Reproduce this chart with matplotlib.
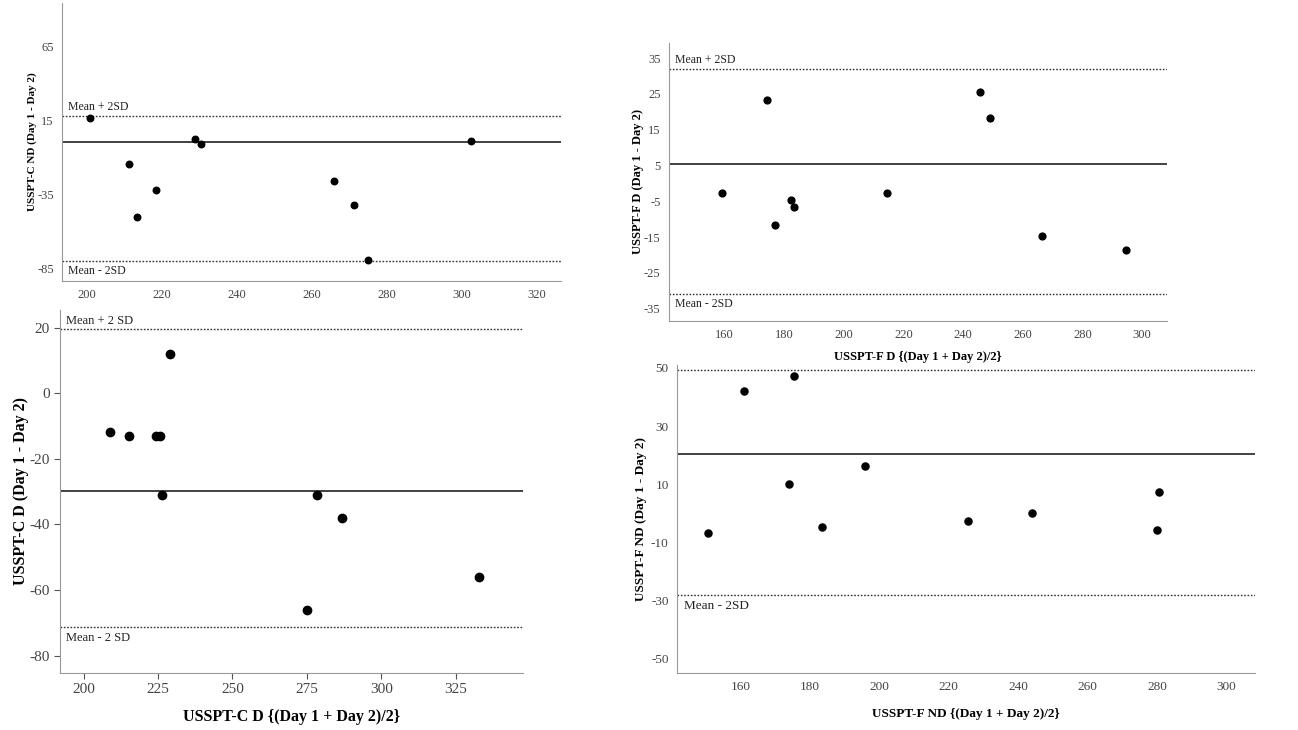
import matplotlib
matplotlib.use("Agg")
import matplotlib.pyplot as plt

plt.rcParams["font.family"] = ["Liberation Serif", "DejaVu Serif"]
plt.rcParams["axes.unicode_minus"] = False

# USSPT-C ND (top left)
cnd_mean_x = [200.9, 211.4, 213.3, 218.4, 228.9, 230.4, 266.0, 271.4, 275.0, 302.5]
cnd_diff = [16.5, -14.4, -50.3, -32.2, 2.5, -0.6, -25.5, -42.2, -79.1, 1.6]
cnd_lines = [18.5, 0.7, -79.8]  # upper, mean, lower
cnd_yticks = [65, 15, -35, -85]
cnd_xticks = [200, 220, 240, 260, 280, 300, 320]

# USSPT-C D (bottom left)
cd_mean_x = [208.9, 215.4, 224.4, 225.8, 228.9, 226.3, 278.4, 286.9, 274.9, 332.9]
cd_diff = [-11.9, -12.9, -12.9, -12.9, 12.1, -31.0, -31.0, -38.0, -66.0, -55.9]
cd_lines = [19.5, -29.9, -71.4]
cd_yticks = [20, 0, -20, -40, -60, -80]
cd_xticks = [200, 225, 250, 275, 300, 325]

# USSPT-F D (top right)
fd_mean_x = [159.4, 174.4, 176.9, 182.4, 183.5, 214.5, 245.5, 248.9, 266.5, 294.5]
fd_diff = [-2.7, 23.4, -11.7, -4.6, -6.7, -2.7, 25.4, 18.3, -14.7, -18.7]
fd_lines = [31.9, 5.3, -30.8]
fd_yticks = [35, 25, 15, 5, -5, -15, -25, -35]
fd_xticks = [160, 180, 200, 220, 240, 260, 280, 300]

# USSPT-F ND (bottom right)
fnd_mean_x = [150.4, 160.9, 175.4, 173.9, 183.4, 195.9, 225.5, 244.0, 280.6, 280.1]
fnd_diff = [-6.8, 42.1, 47.2, 10.2, -4.7, 16.2, -2.8, 0.2, 7.2, -5.8]
fnd_lines = [49.3, 20.3, -28.3]
fnd_yticks = [50, 30, 10, -10, -30, -50]
fnd_xticks = [160, 180, 200, 220, 240, 260, 280, 300]

fig = plt.figure(figsize=(12.98, 7.30), dpi=100)


def ba_panel(rect, xs, ys, lines, xticks, yticks, xlim, ylim, ylabel, xlabel,
             upper_txt, lower_txt, tick_fs=9, lab_fs=8, dot=20, ticks=False,
             ylab_x=-0.05, xlab_y=-0.11, note_fs=8.5):
    ax = fig.add_axes(rect)
    ax.scatter(xs, ys, s=dot, color="black", zorder=3)
    ax.axhline(lines[0], color="#333333", linestyle=(0, (1.2, 1.2)), linewidth=1)
    ax.axhline(lines[1], color="#333333", linestyle="-", linewidth=1.3)
    ax.axhline(lines[2], color="#333333", linestyle=(0, (1.2, 1.2)), linewidth=1)
    ax.set_xlim(*xlim)
    ax.set_ylim(*ylim)
    ax.set_xticks(xticks)
    ax.set_yticks(yticks)
    for side in ["top", "right"]:
        ax.spines[side].set_visible(False)
    for side in ["left", "bottom"]:
        ax.spines[side].set_color("#999999")
    if ticks:
        ax.tick_params(axis="both", length=4, color="#555555", labelsize=tick_fs,
                       labelcolor="#444444")
    else:
        ax.tick_params(axis="both", length=0, labelsize=tick_fs,
                       labelcolor="#444444", pad=6)
    ax.set_ylabel(ylabel, fontsize=lab_fs, fontweight="bold")
    ax.yaxis.set_label_coords(ylab_x, 0.5)
    if xlabel:
        ax.set_xlabel(xlabel, fontsize=lab_fs, fontweight="bold")
        ax.xaxis.set_label_coords(0.5, xlab_y)
    trans = ax.get_yaxis_transform()
    if upper_txt:
        ax.annotate(upper_txt, (0.012, lines[0]), xycoords=trans,
                    xytext=(0, 2), textcoords="offset points",
                    fontsize=note_fs, color="#222222", va="bottom")
    if lower_txt:
        ax.annotate(lower_txt, (0.012, lines[2]), xycoords=trans,
                    xytext=(0, -3), textcoords="offset points",
                    fontsize=note_fs, color="#222222", va="top")
    return ax


ba_panel([0.0478, 0.6151, 0.3844, 0.3808], cnd_mean_x, cnd_diff, cnd_lines,
         cnd_xticks, cnd_yticks, (193.4, 326.6), (-93.4, 94.6),
         "USSPT-C ND (Day 1 - Day 2)", None, "Mean + 2SD", "Mean - 2SD",
         tick_fs=9, lab_fs=8, dot=22, ylab_x=-0.05)

ba_panel([0.0462, 0.0781, 0.3567, 0.4973], cd_mean_x, cd_diff, cd_lines,
         cd_xticks, cd_yticks, (192.1, 347.5), (-85.3, 25.4),
         "USSPT-C D (Day 1 - Day 2)", "USSPT-C D {(Day 1 + Day 2)/2}",
         "Mean + 2 SD", "Mean - 2 SD",
         tick_fs=11, lab_fs=11.5, dot=36, ticks=True, ylab_x=-0.066, xlab_y=-0.10,
         note_fs=9)

ba_panel([0.5154, 0.5603, 0.3837, 0.3808], fd_mean_x, fd_diff, fd_lines,
         fd_xticks, fd_yticks, (141.5, 308.3), (-38.4, 39.2),
         "USSPT-F D (Day 1 - Day 2)", "USSPT-F D {(Day 1 + Day 2)/2}",
         "Mean + 2SD", "Mean - 2SD",
         tick_fs=9, lab_fs=9, dot=24, ylab_x=-0.05, xlab_y=-0.108)

ba_panel([0.5216, 0.0781, 0.4453, 0.4219], fnd_mean_x, fnd_diff, fnd_lines,
         fnd_xticks, fnd_yticks, (141.6, 308.3), (-55.0, 51.0),
         "USSPT-F ND (Day 1 - Day 2)", "USSPT-F ND {(Day 1 + Day 2)/2}",
         None, "Mean - 2SD",
         tick_fs=9.5, lab_fs=9.5, dot=26, ylab_x=-0.052, xlab_y=-0.114,
         note_fs=9.5)

fig.savefig("out.png", dpi=100)
